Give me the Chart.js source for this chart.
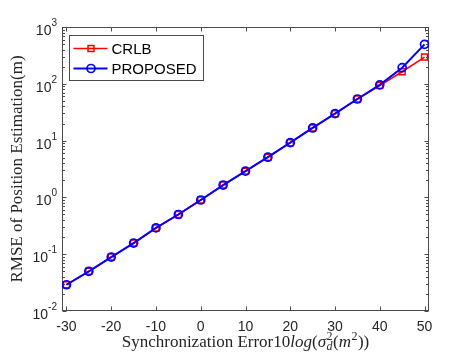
<!DOCTYPE html>
<html><head><meta charset="utf-8">
<script src="https://cdn.jsdelivr.net/npm/chart.js@4"></script>
<style>html,body{margin:0;padding:0;background:#fff}#wrap{width:474px;height:355px}</style>
</head><body><div id="wrap"><canvas id="c" width="474" height="355"></canvas></div>
<script>
const xValues = [-30,-25,-20,-15,-10,-5,0,5,10,15,20,25,30,35,40,45,50];
const crlb = [0.029,0.050,0.089,0.157,0.29,0.50,0.90,1.65,2.9,5.1,9.2,16.7,29.8,54,93,163,296];
const proposed = [0.029,0.050,0.089,0.157,0.29,0.50,0.90,1.65,2.9,5.1,9.2,16.7,29.8,54,96,192,495];
const xTicks = [-30,-20,-10,0,10,20,30,40,50];
const yExponents = [-2,-1,0,1,2,3];
const legendOrder = ['CRLB','PROPOSED'];
const xTitleParts = [
  {t:'Synchronization Error10', it:false},
  {t:'log', it:true},
  {t:'(', it:false},
  {t:'\u03C3', it:true},
  {sub:'d', sup:'2'},
  {t:'(', it:false},
  {t:'m', it:true},
  {sup:'2'},
  {t:'))', it:false}
];
const yTitle = 'RMSE of Position Estimation(m)';

const AX = '#4a4a4a';
const TXT = '#262626';

const matlabAxes = {
  id:'matlabAxes',
  beforeDatasetsDraw(chart){
    const {ctx, chartArea:a, scales:{x,y}} = chart;
    ctx.save();
    ctx.strokeStyle = AX; ctx.lineWidth = 1;
    const L = Math.round(a.left)+0.5, R = Math.round(a.right)-0.5, T = Math.round(a.top)+0.5, B = Math.round(a.bottom)-0.5;
    ctx.strokeRect(L, T, R-L, B-T);
    ctx.beginPath();
    xTicks.forEach(v=>{
      const px = Math.round(x.getPixelForValue(v))+0.5;
      ctx.moveTo(px,B); ctx.lineTo(px,B-4);
      ctx.moveTo(px,T); ctx.lineTo(px,T+4);
    });
    yExponents.forEach(e=>{
      const py = Math.round(y.getPixelForValue(Math.pow(10,e)))+0.5;
      ctx.moveTo(L,py); ctx.lineTo(L+4,py);
      ctx.moveTo(R,py); ctx.lineTo(R-4,py);
      if (e < 3) {
        for (let m=2;m<=9;m++){
          const pm = Math.round(y.getPixelForValue(m*Math.pow(10,e)))+0.5;
          ctx.moveTo(L,pm); ctx.lineTo(L+2.5,pm);
          ctx.moveTo(R,pm); ctx.lineTo(R-2.5,pm);
        }
      }
    });
    ctx.stroke();
    ctx.restore();
  },
  afterDraw(chart){
    const {ctx, chartArea:a, scales:{x,y}} = chart;
    ctx.save();
    // y tick labels 10^e
    ctx.fillStyle = TXT; ctx.textBaseline = 'alphabetic';
    const rightEdge = a.left - 5;
    yExponents.forEach(e=>{
      const py = y.getPixelForValue(Math.pow(10,e));
      ctx.font = '10px "Liberation Sans"';
      const es = String(e);
      ctx.textAlign = 'right';
      const ew = ctx.measureText(es).width;
      ctx.fillText(es, rightEdge, py-1);
      ctx.font = '14px "Liberation Sans"';
      ctx.fillText('10', rightEdge-ew, py+8);
    });
    // y title
    ctx.save();
    ctx.translate(18, (a.top+a.bottom)/2);
    ctx.rotate(-Math.PI/2);
    ctx.font = '17px "Liberation Serif"';
    ctx.textAlign = 'center'; ctx.textBaseline = 'middle';
    ctx.fillText(yTitle, 0, 0);
    ctx.restore();
    // x title (mixed)
    const base = 17, small = 12, baseY = 347;
    const fnt = (sz,it)=> (it?'italic ':'') + sz + 'px "Liberation Serif"';
    let total = 0;
    const widths = xTitleParts.map(p=>{
      let w;
      if (p.t !== undefined){ ctx.font = fnt(base,p.it); w = ctx.measureText(p.t).width; }
      else {
        let w1=0,w2=0;
        if (p.sub){ ctx.font = fnt(small,true); w1 = ctx.measureText(p.sub).width; }
        if (p.sup){ ctx.font = fnt(small,false); w2 = ctx.measureText(p.sup).width; }
        w = Math.max(w1,w2)+1;
      }
      total += w; return w;
    });
    let cx = (a.left+a.right)/2 - total/2;
    ctx.textAlign = 'left'; ctx.textBaseline = 'alphabetic';
    xTitleParts.forEach((p,i)=>{
      if (p.t !== undefined){ ctx.font = fnt(base,p.it); ctx.fillText(p.t, cx, baseY); }
      else {
        if (p.sub){ ctx.font = fnt(small,true); ctx.fillText(p.sub, cx+0.5, baseY+3); }
        if (p.sup){ ctx.font = fnt(small,false); ctx.fillText(p.sup, cx+0.5, baseY-7); }
      }
      cx += widths[i];
    });
    // legend
    const lx = 69.5, ly = 35.5, lw = 134, lh = 45;
    ctx.fillStyle = '#fff'; ctx.fillRect(lx,ly,lw,lh);
    ctx.strokeStyle = AX; ctx.lineWidth = 1; ctx.strokeRect(lx,ly,lw,lh);
    const rows = [48.5, 68.5];
    legendOrder.forEach((lab,i)=>{
      const ds = chart.data.datasets.find(d=>d.label===lab);
      const yy = rows[i];
      ctx.strokeStyle = ds.borderColor; ctx.lineWidth = ds.borderWidth;
      ctx.beginPath(); ctx.moveTo(73.5,yy); ctx.lineTo(107.5,yy); ctx.stroke();
      ctx.lineWidth = ds.pointBorderWidth;
      ctx.beginPath();
      if (ds.pointStyle === 'rect'){ const s = ds.pointRadius*Math.SQRT1_2; ctx.rect(91-s,yy-s,2*s,2*s); }
      else { ctx.arc(91,yy,ds.pointRadius,0,Math.PI*2); }
      ctx.stroke();
      ctx.fillStyle = '#000'; ctx.font = '15px "Liberation Sans"';
      ctx.textAlign = 'left'; ctx.textBaseline = 'middle';
      ctx.fillText(lab, 111.5, yy+1);
    });
    ctx.restore();
  }
};

new Chart(document.getElementById('c'), {
  type:'line',
  data:{ datasets:[
    {label:'PROPOSED', data:xValues.map((v,i)=>({x:v,y:proposed[i]})), borderColor:'#0000ff', borderWidth:2,
     pointStyle:'circle', pointRadius:4, pointBorderWidth:1.7, pointBorderColor:'#0000ff', pointBackgroundColor:'rgba(0,0,0,0)',
     fill:false, tension:0, order:0},
    {label:'CRLB', data:xValues.map((v,i)=>({x:v,y:crlb[i]})), borderColor:'#ff0000', borderWidth:1.5,
     pointStyle:'rect', pointRadius:4.2, pointBorderWidth:1.5, pointBorderColor:'#ff0000', pointBackgroundColor:'rgba(0,0,0,0)',
     fill:false, tension:0, order:1}
  ]},
  options:{
    responsive:false, animation:false, events:[],
    layout:{padding:{left:0,right:45,top:27,bottom:0}},
    plugins:{legend:{display:false}, tooltip:{enabled:false}},
    scales:{
      x:{type:'linear', min:-31, max:51,
         afterBuildTicks:s=>{ s.ticks = xTicks.map(v=>({value:v})); },
         afterFit:s=>{ s.height = 44; },
         grid:{display:false, drawTicks:false}, border:{display:false},
         ticks:{font:{family:'Liberation Sans', size:14}, color:TXT, padding:8, maxRotation:0, autoSkip:false, callback:v=>String(v)}},
      y:{type:'logarithmic', min:0.01, max:1000,
         afterBuildTicks:s=>{ s.ticks = yExponents.map(e=>({value:Math.pow(10,e)})); },
         afterFit:s=>{ s.width = 62; },
         grid:{display:false, drawTicks:false}, border:{display:false},
         ticks:{display:false}}
    }
  },
  plugins:[matlabAxes]
});
</script>
</body></html>
